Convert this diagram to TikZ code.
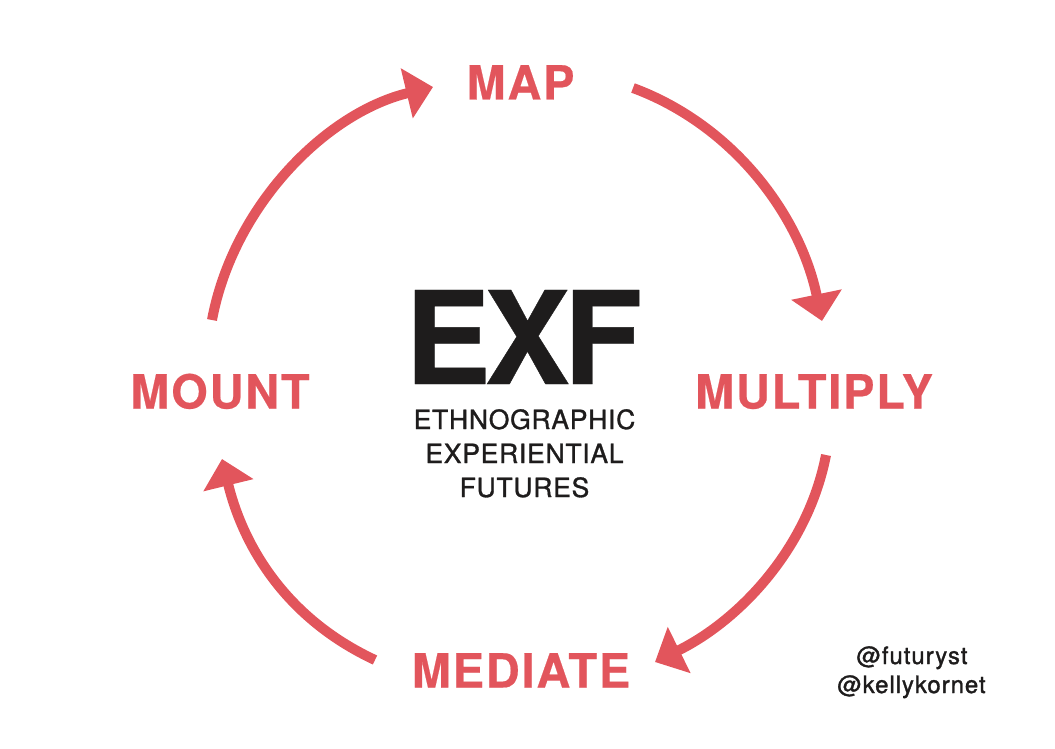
\documentclass[tikz,border=0pt]{standalone}
\usepackage{fontspec}
\setmainfont{TeX Gyre Heros}
\usetikzlibrary{arrows.meta}
\definecolor{exfred}{HTML}{E2555C}
\definecolor{exfink}{HTML}{1E1C1C}
\newfontfamily\stagefont[LetterSpace=3.8,FakeBold=0.4]{TeX Gyre Heros Bold}
\newfontfamily\logofont[LetterSpace=-5.2,FakeBold=0.3]{TeX Gyre Heros Bold}
\newfontfamily\captionfont[LetterSpace=2.8,FakeBold=1.2]{TeX Gyre Heros}
\newfontfamily\handlefont[LetterSpace=4,FakeBold=1.4]{TeX Gyre Heros}
\tikzset{
  stage/.style={anchor=base,inner sep=0pt,text=exfred,font=\stagefont\fontsize{47}{47}\selectfont},
  logo/.style={anchor=base,inner sep=0pt,text=exfink,font=\logofont\fontsize{129}{129}\selectfont},
  caption/.style={anchor=base,inner sep=0pt,text=exfink,font=\captionfont\fontsize{26.5}{26.5}\selectfont},
  handle/.style={anchor=base,inner sep=0pt,text=exfink,font=\handlefont\fontsize{24}{24}\selectfont},
  cycle/.style={draw=exfred,line width=10pt,-{Triangle[length=27pt,width=50pt,fill=exfred]}},
}
\begin{document}
\begin{tikzpicture}[x=1pt,y=-1pt]
\useasboundingbox (0,0) rectangle (1055,749);
\node[stage] (map) at (520.5,99.5) {MAP};
\node[stage] (multiply) at (814,408.5) {MULTIPLY};
\node[stage] (mediate) at (521,687.5) {MEDIATE};
\node[stage] (mount) at (220,408.5) {MOUNT};
\node[logo] (exf) at (523.5,384) {EXF};
\node[caption] (cap1) at (524.5,429) {ETHNOGRAPHIC};
\node[caption] (cap2) at (524.5,463) {EXPERIENTIAL};
\node[caption] (cap3) at (524.5,497) {FUTURES};
\node[handle] (h1) at (912,664) {@futuryst};
\node[handle] (h2) at (911.5,693) {@kellykornet};
\coordinate (a1s) at (212,320); \coordinate (a1e) at (433,87);
\coordinate (a2s) at (633,88); \coordinate (a2e) at (822,321);
\coordinate (a3s) at (826,455); \coordinate (a3e) at (655,662);
\coordinate (a4s) at (375,660); \coordinate (a4e) at (222,459);
\draw[cycle] (a1s) .. controls (233,207) and (325,113) .. (a1e);
\draw[cycle] (a2s) .. controls (733,125) and (800,215) .. (a2e);
\draw[cycle] (a3s) .. controls (808,548) and (740,620) .. (a3e);
\draw[cycle] (a4s) .. controls (285,618) and (243,545) .. (a4e);
\end{tikzpicture}
\end{document}
